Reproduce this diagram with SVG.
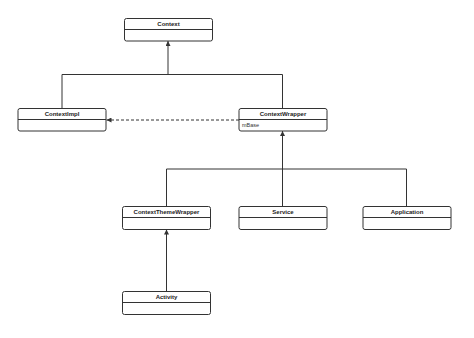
<svg xmlns="http://www.w3.org/2000/svg" width="474" height="338" viewBox="0 0 474 338">
<defs>
<marker id="arr" viewBox="0 0 10 10" refX="10" refY="5" markerWidth="5" markerHeight="5" markerUnits="userSpaceOnUse" orient="auto">
<path d="M0,0 L10,5 L0,10 z" fill="#333"/>
</marker>
<style>
.box{fill:#fff;stroke:#333;stroke-width:1}
.div{stroke:#333;stroke-width:1}
.t{font-family:"Liberation Sans",Arial,sans-serif;font-size:6px;font-weight:bold;fill:#222;text-anchor:middle;dominant-baseline:central}
.a{font-family:"Liberation Sans",Arial,sans-serif;font-size:5.5px;fill:#333;dominant-baseline:central}
.c{fill:none;stroke:#333;stroke-width:1}
.d{fill:none;stroke:#333;stroke-width:1;stroke-dasharray:3,2}
</style>
</defs>
<rect width="474" height="338" fill="#fff"/>
<g id="connectors">
<path class="c" d="M62,108.5 V74.5 H282.5 V108.5"/>
<path class="c" d="M168,74.5 V41" marker-end="url(#arr)"/>
<path class="d" d="M239,120 H106.5" marker-end="url(#arr)"/>
<path class="c" d="M166.5,206.5 V169 H406.5 V206.5"/>
<path class="c" d="M282.5,169 V131" marker-end="url(#arr)"/>
<path class="c" d="M282.5,206.5 V169"/>
<path class="c" d="M166.5,291.5 V229.5" marker-end="url(#arr)"/>
</g>
<g id="Context">
<rect class="box" x="124.5" y="18.5" width="88" height="22.5" rx="2"/>
<line class="div" x1="124.5" y1="29.5" x2="212.5" y2="29.5"/>
<text class="t" x="168.5" y="24">Context</text>
</g>
<g id="ContextImpl">
<rect class="box" x="18" y="108.5" width="88" height="22.5" rx="2"/>
<line class="div" x1="18" y1="119.5" x2="106" y2="119.5"/>
<text class="t" x="62" y="114">ContextImpl</text>
</g>
<g id="ContextWrapper">
<rect class="box" x="239" y="108.5" width="88" height="22.5" rx="2"/>
<line class="div" x1="239" y1="119.5" x2="327" y2="119.5"/>
<text class="t" x="283" y="114">ContextWrapper</text>
<text class="a" x="242" y="125.3">mBase</text>
</g>
<g id="ContextThemeWrapper">
<rect class="box" x="122.5" y="206.5" width="88" height="23" rx="2"/>
<line class="div" x1="122.5" y1="217.5" x2="210.5" y2="217.5"/>
<text class="t" x="166.5" y="212">ContextThemeWrapper</text>
</g>
<g id="Service">
<rect class="box" x="239" y="206.5" width="88" height="23" rx="2"/>
<line class="div" x1="239" y1="217.5" x2="327" y2="217.5"/>
<text class="t" x="283" y="212">Service</text>
</g>
<g id="Application">
<rect class="box" x="363" y="206.5" width="88" height="23" rx="2"/>
<line class="div" x1="363" y1="217.5" x2="451" y2="217.5"/>
<text class="t" x="407" y="212">Application</text>
</g>
<g id="Activity">
<rect class="box" x="122.5" y="291.5" width="88" height="23" rx="2"/>
<line class="div" x1="122.5" y1="302.5" x2="210.5" y2="302.5"/>
<text class="t" x="166.5" y="297">Activity</text>
</g>
</svg>
